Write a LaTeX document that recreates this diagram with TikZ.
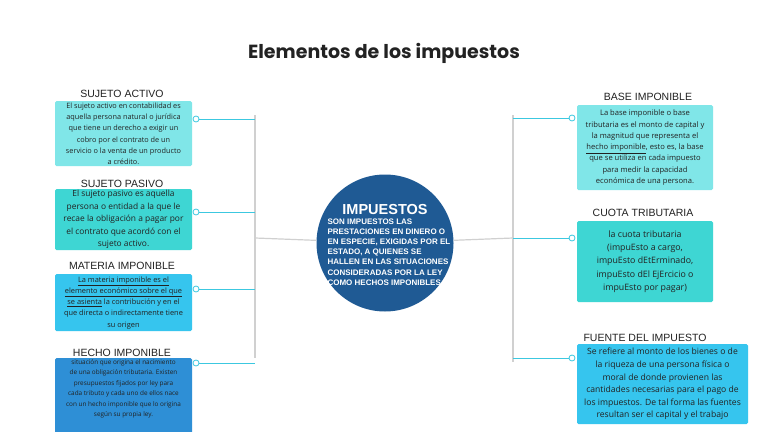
\documentclass[tikz,border=0pt]{standalone}
\usepackage{fontspec}
\setmainfont{Open Sans}
\newfontfamily\hd{Liberation Sans}
\newfontfamily\ttl{Poppins}
\definecolor{c1}{HTML}{80E6E8}
\definecolor{c2}{HTML}{3ED6D3}
\definecolor{c3}{HTML}{36C5EE}
\definecolor{c4}{HTML}{2E8FD6}
\definecolor{cb}{HTML}{1F5A94}
\definecolor{ln}{HTML}{3CC8E0}
\definecolor{tr}{HTML}{D0D0D0}
\definecolor{tx}{HTML}{222222}
\tikzset{
 box/.style={rounded corners=1.5pt,align=center,inner sep=1pt,text=tx,anchor=north west},
 hdr/.style={font=\hd\fontsize{10.5}{11}\selectfont,text=tx},
 dot/.style={circle,draw=ln,fill=white,line width=0.8pt,inner sep=0pt,minimum size=6pt},
 br/.style={draw=ln,line width=0.8pt},
 trunk/.style={draw=tr,line width=1.2pt}
}
\begin{document}
\begin{tikzpicture}[x=1pt,y=-1pt]
\useasboundingbox[fill=white] (0,0) rectangle (768,431);
\node[font=\ttl\bfseries\fontsize{19}{21}\selectfont,text=tx] (title) at (384,53) {Elementos de los impuestos};
% trunks
\coordinate (lt) at (255,115); \coordinate (lb) at (255,358);
\coordinate (rt) at (513,115); \coordinate (rb) at (513,362);
\draw[trunk] (lt) -- (lb);
\draw[trunk] (rt) -- (rb);
\coordinate (lm) at (255,238); \coordinate (rm) at (513,238);
\node[circle,fill=cb,minimum size=137pt,inner sep=0pt] (c) at (385,243) {};
\draw[trunk] (lm) -- (c); \draw[trunk] (c) -- (rm);
\node[text=white,font=\hd\bfseries\fontsize{14.5}{15}\selectfont] (ct) at (385,210) {IMPUESTOS};
\node[text=white,font=\hd\bfseries\fontsize{8}{10.2}\selectfont,align=left,anchor=north west] (cd) at (324,215) {SON IMPUESTOS LAS\\PRESTACIONES EN DINERO O\\EN ESPECIE, EXIGIDAS POR EL\\ESTADO, A QUIENES SE\\HALLEN EN LAS SITUACIONES\\CONSIDERADAS POR LA LEY\\COMO HECHOS IMPONIBLES};
% left boxes
\node[hdr] (h1) at (122,94) {SUJETO ACTIVO};
\node[box,fill=c1,minimum width=137pt,minimum height=65pt,font=\fontsize{7.3}{11.3}\selectfont,anchor=north] (b1) at (123.5,101) {El sujeto activo en contabilidad es\\aquella persona natural o jurídica\\que tiene un derecho a exigir un\\cobro por el contrato de un\\servicio o la venta de un producto\\a crédito.};
\node[hdr] (h2) at (122,184) {SUJETO PASIVO};
\node[box,fill=c2,minimum width=137pt,minimum height=60pt,font=\fontsize{8.4}{12.6}\selectfont,anchor=north] (b2) at (123.5,189) {El sujeto pasivo es aquella\\persona o entidad a la que le\\recae la obligación a pagar por\\el contrato que acordó con el\\sujeto activo.};
\node[hdr] (h3) at (122,266) {MATERIA IMPONIBLE};
\node[box,fill=c3,minimum width=137pt,minimum height=57pt,font=\fontsize{7.4}{11.3}\selectfont,anchor=north] (b3) at (123.5,274) {\underline{La materia imponible es el}\\\underline{elemento económico sobre el que}\\\underline{se asienta} la contribución y en el\\que directa o indirectamente tiene\\su origen};
\node[hdr] (h4) at (122,353) {HECHO IMPONIBLE};
\node[box,fill=c4,minimum width=137pt,minimum height=72pt,font=\fontsize{6.4}{10.5}\selectfont,anchor=north] (b4) at (123.5,358) {situación que origina el nacimiento\\de una obligación tributaria. Existen\\presupuestos fijados por ley para\\cada tributo y cada uno de ellos nace\\con un hecho imponible que lo origina\\según su propia ley.\\[8pt]};
% right boxes
\node[hdr] (h5) at (648,97) {BASE IMPONIBLE};
\node[box,fill=c1,minimum width=136pt,minimum height=85pt,font=\fontsize{7.6}{11.3}\selectfont,anchor=north] (b5) at (645,105) {La base imponible o base\\tributaria es el monto de capital y\\la magnitud que representa el\\\underline{hecho imponible}, esto es, la base\\que se utiliza en cada impuesto\\para medir la capacidad\\económica de una persona.};
\node[hdr] (h6) at (643,213) {CUOTA TRIBUTARIA};
\node[box,fill=c2,minimum width=136pt,minimum height=81pt,font=\fontsize{8.8}{13.3}\selectfont,anchor=north] (b6) at (645,221) {la cuota tributaria\\(impuEsto a cargo,\\impuEsto dEtErminado,\\impuEsto dEl EjErcicio o\\impuEsto por pagar)};
\node[hdr] (h7) at (645,338) {FUENTE DEL IMPUESTO};
\node[box,fill=c3,minimum width=171pt,minimum height=80pt,font=\fontsize{8.6}{12.6}\selectfont,anchor=north] (b7) at (662.5,344) {Se refiere al monto de los bienes o de\\la riqueza de una persona física o\\moral de donde provienen las\\cantidades necesarias para el pago de\\los impuestos. De tal forma las fuentes\\resultan ser el capital y el trabajo};
% connectors
\node[dot] (d1) at (196,119) {}; \coordinate (t1) at (255,119);
\node[dot] (d2) at (196,212) {}; \coordinate (t2) at (255,212);
\node[dot] (d3) at (196,289) {}; \coordinate (t3) at (255,289);
\node[dot] (d4) at (196,363) {}; \coordinate (t4) at (255,363);
\node[dot] (d5) at (572,118) {}; \coordinate (t5) at (513,118);
\node[dot] (d6) at (572,238) {}; \coordinate (t6) at (513,238);
\node[dot] (d7) at (572,358) {}; \coordinate (t7) at (513,358);
\foreach \i in {1,...,7} {\draw[br] (d\i) -- (t\i);}
\end{tikzpicture}
\end{document}
